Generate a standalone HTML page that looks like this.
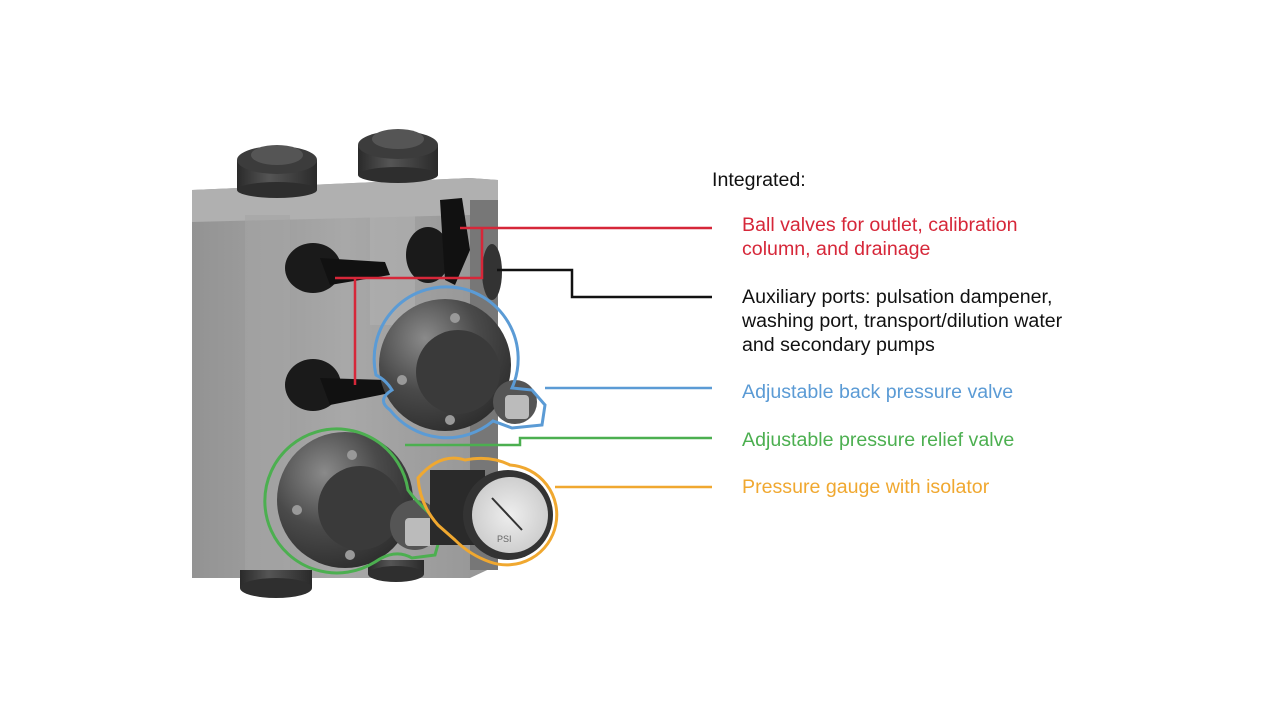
<!DOCTYPE html>
<html><head><meta charset="utf-8"><style>
html,body{margin:0;padding:0;background:#fff;}
svg{display:block;}
text{font-family:"Liberation Sans",sans-serif;font-size:19.6px;}
</style></head><body>
<svg width="1280" height="720" viewBox="0 0 1280 720">
<defs>
<linearGradient id="body" x1="0" x2="1"><stop offset="0" stop-color="#939393"/><stop offset="0.5" stop-color="#a8a8a8"/><stop offset="1" stop-color="#959595"/></linearGradient>
<linearGradient id="cap" x1="0" x2="1"><stop offset="0" stop-color="#2a2a2a"/><stop offset="0.4" stop-color="#555"/><stop offset="1" stop-color="#2a2a2a"/></linearGradient>
<radialGradient id="flange" cx="0.35" cy="0.3" r="0.8"><stop offset="0" stop-color="#8a8a8a"/><stop offset="0.5" stop-color="#4a4a4a"/><stop offset="1" stop-color="#2a2a2a"/></radialGradient>
<radialGradient id="face" cx="0.5" cy="0.5" r="0.6"><stop offset="0" stop-color="#eeeeee"/><stop offset="1" stop-color="#c8c8c8"/></radialGradient>
</defs>
<!-- body -->
<path d="M192 190 L470 178 L498 180 L498 565 L470 578 L192 578 Z" fill="url(#body)"/>
<path d="M192 190 L470 178 L498 180 L498 200 L470 215 L192 222 Z" fill="#b0b0b0"/>
<rect x="470" y="200" width="28" height="370" fill="#777"/>
<rect x="245" y="215" width="45" height="360" fill="#a5a5a5" opacity="0.6"/>
<rect x="370" y="205" width="45" height="120" fill="#b0b0b0" opacity="0.6"/>
<!-- top caps -->
<rect x="237" y="160" width="80" height="30" fill="url(#cap)"/>
<ellipse cx="277" cy="190" rx="40" ry="8" fill="#2e2e2e"/>
<ellipse cx="277" cy="160" rx="40" ry="14" fill="#3c3c3c"/>
<ellipse cx="277" cy="155" rx="26" ry="10" fill="#555"/>
<rect x="358" y="145" width="80" height="30" fill="url(#cap)"/>
<ellipse cx="398" cy="175" rx="40" ry="8" fill="#2e2e2e"/>
<ellipse cx="398" cy="145" rx="40" ry="14" fill="#3c3c3c"/>
<ellipse cx="398" cy="139" rx="26" ry="10" fill="#555"/>
<!-- bottom caps -->
<rect x="240" y="570" width="72" height="18" fill="url(#cap)"/>
<ellipse cx="276" cy="588" rx="36" ry="10" fill="#2f2f2f"/>
<rect x="368" y="560" width="56" height="14" fill="url(#cap)"/>
<ellipse cx="396" cy="574" rx="28" ry="8" fill="#2f2f2f"/>
<!-- right side port -->
<ellipse cx="492" cy="272" rx="10" ry="28" fill="#333"/>
<!-- handles -->
<ellipse cx="428" cy="255" rx="22" ry="28" fill="#1a1a1a"/>
<path d="M440 200 L462 198 L470 250 L455 285 L445 280 Z" fill="#111"/>
<ellipse cx="313" cy="268" rx="28" ry="25" fill="#1a1a1a"/>
<path d="M320 258 L385 262 L390 275 L330 285 Z" fill="#111"/>
<ellipse cx="313" cy="385" rx="28" ry="26" fill="#1a1a1a"/>
<path d="M320 378 L385 380 L390 393 L330 405 Z" fill="#111"/>
<!-- back pressure valve -->
<circle cx="445" cy="365" r="66" fill="url(#flange)"/>
<circle cx="458" cy="372" r="42" fill="#3a3a3a"/>
<circle cx="515" cy="402" r="22" fill="#555"/>
<rect x="505" y="395" width="24" height="24" rx="4" fill="#bbb"/>
<circle cx="455" cy="318" r="5" fill="#999"/><circle cx="402" cy="380" r="5" fill="#999"/><circle cx="450" cy="420" r="5" fill="#999"/>
<path d="M376 375 A72 72 0 1 1 512 388 L532 390 L545 405 L542 425 L512 428 L493 421 A72 72 0 0 1 390 410 Q376 400 392 390 Q386 380 376 375 Z" fill="none" stroke="#5b9bd5" stroke-width="3"/>
<!-- relief valve -->
<circle cx="345" cy="500" r="68" fill="url(#flange)"/>
<circle cx="360" cy="508" r="42" fill="#3a3a3a"/>
<circle cx="415" cy="525" r="25" fill="#555"/>
<rect x="405" y="518" width="28" height="28" rx="4" fill="#bbb"/>
<circle cx="352" cy="455" r="5" fill="#999"/><circle cx="297" cy="510" r="5" fill="#999"/><circle cx="350" cy="555" r="5" fill="#999"/>
<path d="M408 490 A72 72 0 1 0 375 562 Q395 548 412 558 L435 555 L442 530 L428 512 Q415 500 408 490 Z" fill="none" stroke="#4caf50" stroke-width="3"/>
<!-- gauge -->
<rect x="430" y="470" width="55" height="75" fill="#2a2a2a"/>
<circle cx="508" cy="515" r="45" fill="#333"/>
<circle cx="510" cy="515" r="38" fill="url(#face)"/>
<line x1="492" y1="498" x2="522" y2="530" stroke="#333" stroke-width="2"/>
<text x="497" y="542" style="font-size:9px" fill="#666">PSI</text>
<path d="M418 478 Q440 452 465 460 Q490 455 510 465 A50 50 0 1 1 490 562 Q470 555 455 540 L438 525 Q420 505 418 478 Z" fill="none" stroke="#f0a830" stroke-width="3"/>
<!-- connector lines -->
<g fill="none" stroke-width="2.5">
<path d="M460 228 H712 M482 228 V278 H335 M355 278 V385" stroke="#d62739"/>
<path d="M497 270 H572 V297 H712" stroke="#111"/>
<path d="M545 388 H712" stroke="#5b9bd5"/>
<path d="M405 445 H520 V438 H712" stroke="#4caf50"/>
<path d="M555 487 H712" stroke="#f0a830"/>
</g>
<!-- labels -->
<text x="712" y="186" fill="#111">Integrated:</text>
<text fill="#d62739"><tspan x="742" y="231">Ball valves for outlet, calibration</tspan><tspan x="742" y="255">column, and drainage</tspan></text>
<text fill="#111"><tspan x="742" y="303">Auxiliary ports: pulsation dampener,</tspan><tspan x="742" y="327">washing port, transport/dilution water</tspan><tspan x="742" y="351">and secondary pumps</tspan></text>
<text x="742" y="398" fill="#5b9bd5">Adjustable back pressure valve</text>
<text x="742" y="446" fill="#4caf50">Adjustable pressure relief valve</text>
<text x="742" y="493" fill="#f0a830">Pressure gauge with isolator</text>
</svg>
</body></html>
